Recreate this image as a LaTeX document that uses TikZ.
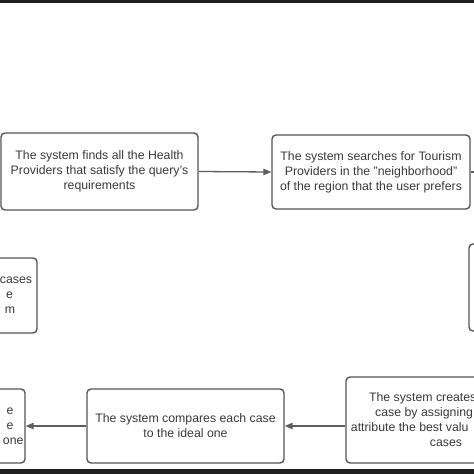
\documentclass[tikz,border=0pt]{standalone}
\usepackage{fontspec}
\setmainfont{Liberation Sans}
\usetikzlibrary{arrows.meta}
\definecolor{boxline}{HTML}{555555}
\definecolor{txt}{HTML}{3A3A3A}
\definecolor{conn}{HTML}{5E5E5E}
\definecolor{bar}{HTML}{1E1E1E}
\tikzset{
  stepbox/.style={draw=boxline, line width=1.4pt, rounded corners=4pt, fill=white,
    text=txt, align=center, inner sep=0pt,
    font=\fontsize{12.3}{15}\selectfont},
  flow/.style={draw=conn, line width=1.3pt, -{Triangle[length=8pt,width=6.5pt]}},
  plainconn/.style={draw=conn, line width=1.3pt},
}
\begin{document}
\begin{tikzpicture}[x=1pt,y=-1pt]
\useasboundingbox (0,0) rectangle (474,474);
\clip (0,0) rectangle (474,474);
\fill[white] (0,0) rectangle (474,474);
% dark frame bars
\fill[bar] (0,0) rectangle (474,2.5);
\fill[bar] (0,469) rectangle (474,474);
% boxes
\node[stepbox, minimum width=197pt, minimum height=77pt] (b1) at (99.5,171.5)
  {The system finds all the Health\\Providers that satisfy the query's\\requirements};
\node[stepbox, minimum width=198pt, minimum height=74pt] (b2) at (371,172)
  {The system searches for Tourism\\Providers in the "neighborhood"\\of the region that the user prefers};
\node[stepbox, minimum width=198pt, minimum height=75pt, text width=188pt, align=right] (b3) at (-62,295.5)
  {cases\\\mbox{e\hspace{19pt}}\\\mbox{m\hspace{17pt}}};
\node[stepbox, minimum width=198pt, minimum height=87pt] (b4) at (568,287.5) {};
\node[stepbox, minimum width=197pt, minimum height=74pt, text width=194pt, align=right] (b5) at (-73.5,426)
  {\mbox{e\hspace{10pt}}\\\mbox{e\hspace{10pt}}\\one};
\node[stepbox, minimum width=197pt, minimum height=74pt] (b6) at (185.5,426)
  {The system compares each case\\to the ideal one};
\node[stepbox, minimum width=200pt, minimum height=86pt] (b7) at (446,420)
  {The system creates\phantom{ an ideal}\\case by assigning\phantom{ to each}\\attribute the best valu\phantom{e of the other}\\cases};
% connectors
\coordinate (off2) at (490,172);
\draw[flow] (b1.east) -- (b2.west);
\draw[plainconn] (b2.east) -- (off2);
\draw[flow] (b7.west |- b6.east) -- (b6.east);
\draw[flow] (b6.west) -- (b5.east);
\end{tikzpicture}
\end{document}
